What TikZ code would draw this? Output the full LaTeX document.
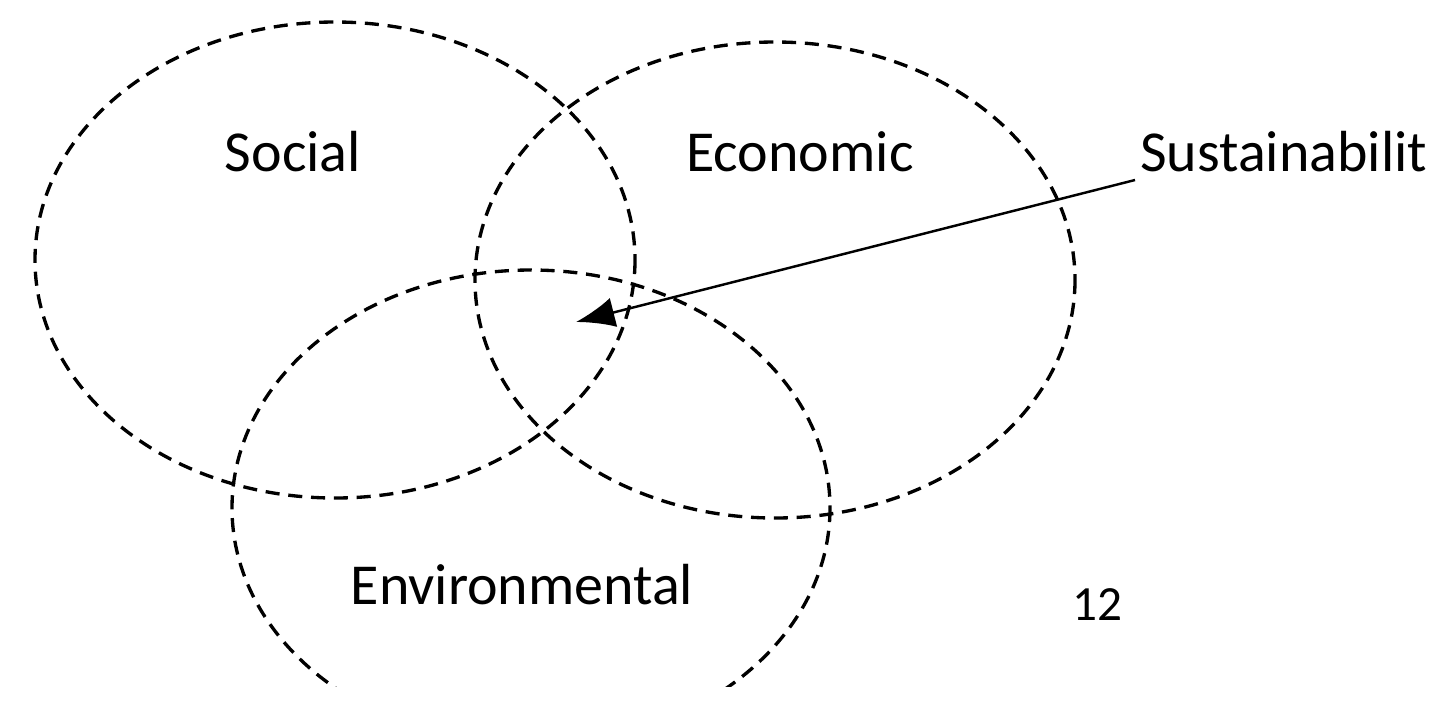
\documentclass[tikz,border=0pt]{standalone}
\usepackage{fontspec}
\setmainfont{Carlito}
\usetikzlibrary{arrows.meta}
\begin{document}
\begin{tikzpicture}[x=0.02cm,y=-0.02cm,
  circ/.style={line width=1.9pt,dash pattern=on 8pt off 5pt},
  lbl/.style={font=\fontsize{33}{38}\selectfont}]
\useasboundingbox (0,0) rectangle (1429,701);
\draw[circ] (335,260) ellipse [x radius=300, y radius=238];
\draw[circ] (775,280) ellipse [x radius=300, y radius=238];
\begin{scope}
\clip (0,0) rectangle (1429,686);
\draw[circ] (531,508) ellipse [x radius=299, y radius=238];
\end{scope}
\node[lbl] (soc) at (293,152) {Social};
\node[lbl] (eco) at (800,152) {Economic};
\node[lbl] (env) at (522,585) {Environmental};
\node[lbl,anchor=west,inner sep=0pt] (sus) at (1140,152) {Sustainabilit};
\node[font=\fontsize{28}{32}\selectfont] (num) at (1097,605) {12};
\coordinate (tip) at (576,322);
\coordinate (st) at (1135,180);
\draw[line width=1.4pt,-{Latex[length=22pt,width=17pt]}] (st) -- (tip);
\end{tikzpicture}
\end{document}
